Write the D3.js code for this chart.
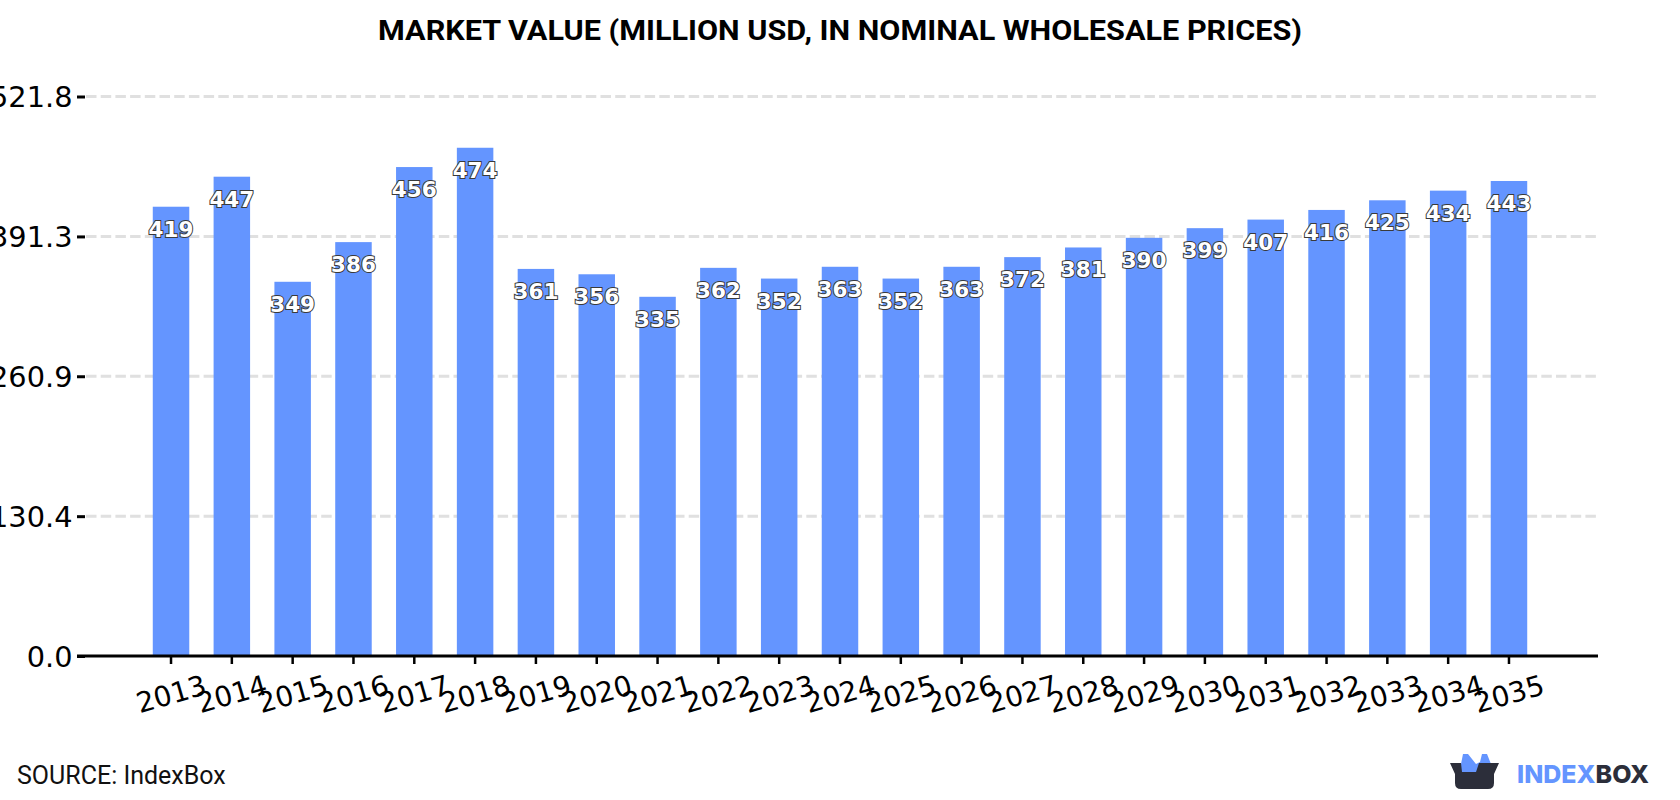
<!DOCTYPE html>
<html>
<head>
<meta charset="utf-8">
<script src="https://cdnjs.cloudflare.com/ajax/libs/d3/7.8.5/d3.min.js"></script>
<style>
  html, body { margin: 0; padding: 0; background: #fff; }
  svg { display: block; }
</style>
</head>
<body>
<svg id="chart" width="1680" height="800"></svg>
<script>
// Market value by year, actuals and forecast
const years = ["2013","2014","2015","2016","2017","2018","2019","2020","2021","2022","2023","2024","2025","2026","2027","2028","2029","2030","2031","2032","2033","2034","2035"];
const marketValues = [419,447,349,386,456,474,361,356,335,362,352,363,352,363,372,381,390,399,407,416,425,434,443];
const yTicks = [0, 130.4, 260.9, 391.3, 521.8];
const chartTitle = "MARKET VALUE (MILLION USD, IN NOMINAL WHOLESALE PRICES)";
const sourceNote = "SOURCE: IndexBox";

const svg = d3.select("#chart");
const axisRight = 1598, baseY = 656, topY = 96.5;

const x = d3.scaleBand().domain(years).range([79.8, 1600.2]).paddingInner(0.4).paddingOuter(1.2);
const y = d3.scaleLinear().domain([0, 521.8]).range([baseY, topY]);

// Title
svg.append("text")
  .attr("x", 840).attr("y", 40)
  .attr("text-anchor", "middle")
  .style("font", "700 28px Roboto")
  .attr("textLength", 924)
  .attr("lengthAdjust", "spacingAndGlyphs")
  .text(chartTitle);

// Dashed gridlines
svg.append("g").selectAll("line")
  .data(yTicks.filter(d => d > 0))
  .join("line")
  .attr("x1", 86).attr("x2", axisRight)
  .attr("y1", d => y(d)).attr("y2", d => y(d))
  .attr("stroke", "#e0e0e0")
  .attr("stroke-width", 3)
  .attr("stroke-dasharray", "10.5 4.2");

// Y axis; the longest labels run past the left edge of the figure
const yAxis = svg.append("g")
  .attr("transform", "translate(85,0)")
  .call(d3.axisLeft(y).tickValues(yTicks).tickFormat(d3.format(".1f")).tickSize(8).tickPadding(4.5));
yAxis.select(".domain").remove();
yAxis.selectAll("line").attr("stroke", "#000").attr("stroke-width", 3);
yAxis.selectAll("text")
  .attr("fill", "#000")
  .style("font", "28.8px 'DejaVu Sans'")
  .attr("dy", "0.36em");

// Bars
svg.append("g").selectAll("rect")
  .data(marketValues)
  .join("rect")
  .attr("x", (d, i) => x(years[i]))
  .attr("width", x.bandwidth())
  .attr("y", d => y(d))
  .attr("height", d => baseY - y(d))
  .attr("fill", "#6495ff");

// X axis
const xAxis = svg.append("g")
  .attr("transform", `translate(0,${baseY})`)
  .call(d3.axisBottom(x).tickSize(8).tickPadding(6));
xAxis.select(".domain").remove();
xAxis.selectAll("line").attr("stroke", "#000").attr("stroke-width", 2.5);
xAxis.selectAll("text")
  .attr("fill", "#000")
  .style("font", "28px 'DejaVu Sans'")
  .attr("text-anchor", "middle")
  .attr("dy", 0)
  .attr("transform", "translate(-1,34) rotate(-16)");
svg.append("line")
  .attr("x1", 77).attr("x2", axisRight)
  .attr("y1", baseY).attr("y2", baseY)
  .attr("stroke", "#000").attr("stroke-width", 3);

// Value labels with an outline
svg.append("g").selectAll("text")
  .data(marketValues)
  .join("text")
  .attr("x", (d, i) => x(years[i]) + x.bandwidth() / 2)
  .attr("y", d => y(d) + 30)
  .attr("text-anchor", "middle")
  .attr("fill", "#fff")
  .attr("stroke", "#3a3a3a")
  .attr("stroke-width", 2)
  .attr("paint-order", "stroke")
  .style("font", "700 21.5px 'DejaVu Sans'")
  .text(d => d);

// Source note
svg.append("text")
  .attr("x", 17).attr("y", 784)
  .attr("fill", "#111")
  .style("font", "25px Roboto")
  .text(sourceNote);

// Brand mark
const logo = svg.append("g");
logo.append("path")
  .attr("d", "M1461,764 L1463,754 L1468,754 L1476,764 L1480,762 L1482,754 L1485,754 L1487,754 L1491,764 L1479,772 L1461,772 Z")
  .attr("fill", "#6495ff");
logo.append("path")
  .attr("d", "M1450,763 L1461,763 L1462,772 L1476,772 L1479,763 L1499,763 L1494,774 L1494,783 Q1494,789 1488,789 L1461,789 Q1455,789 1455,783 L1455,774 Z")
  .attr("fill", "#2c2e3a");
svg.append("text")
  .attr("x", 1517).attr("y", 783)
  .style("font", "800 25px Inter, Roboto")
  .attr("textLength", 132)
  .attr("lengthAdjust", "spacingAndGlyphs")
  .call(t => {
    t.append("tspan").attr("fill", "#6495ff").text("INDEX");
    t.append("tspan").attr("fill", "#2c2e3a").text("BOX");
  });
</script>
</body>
</html>
